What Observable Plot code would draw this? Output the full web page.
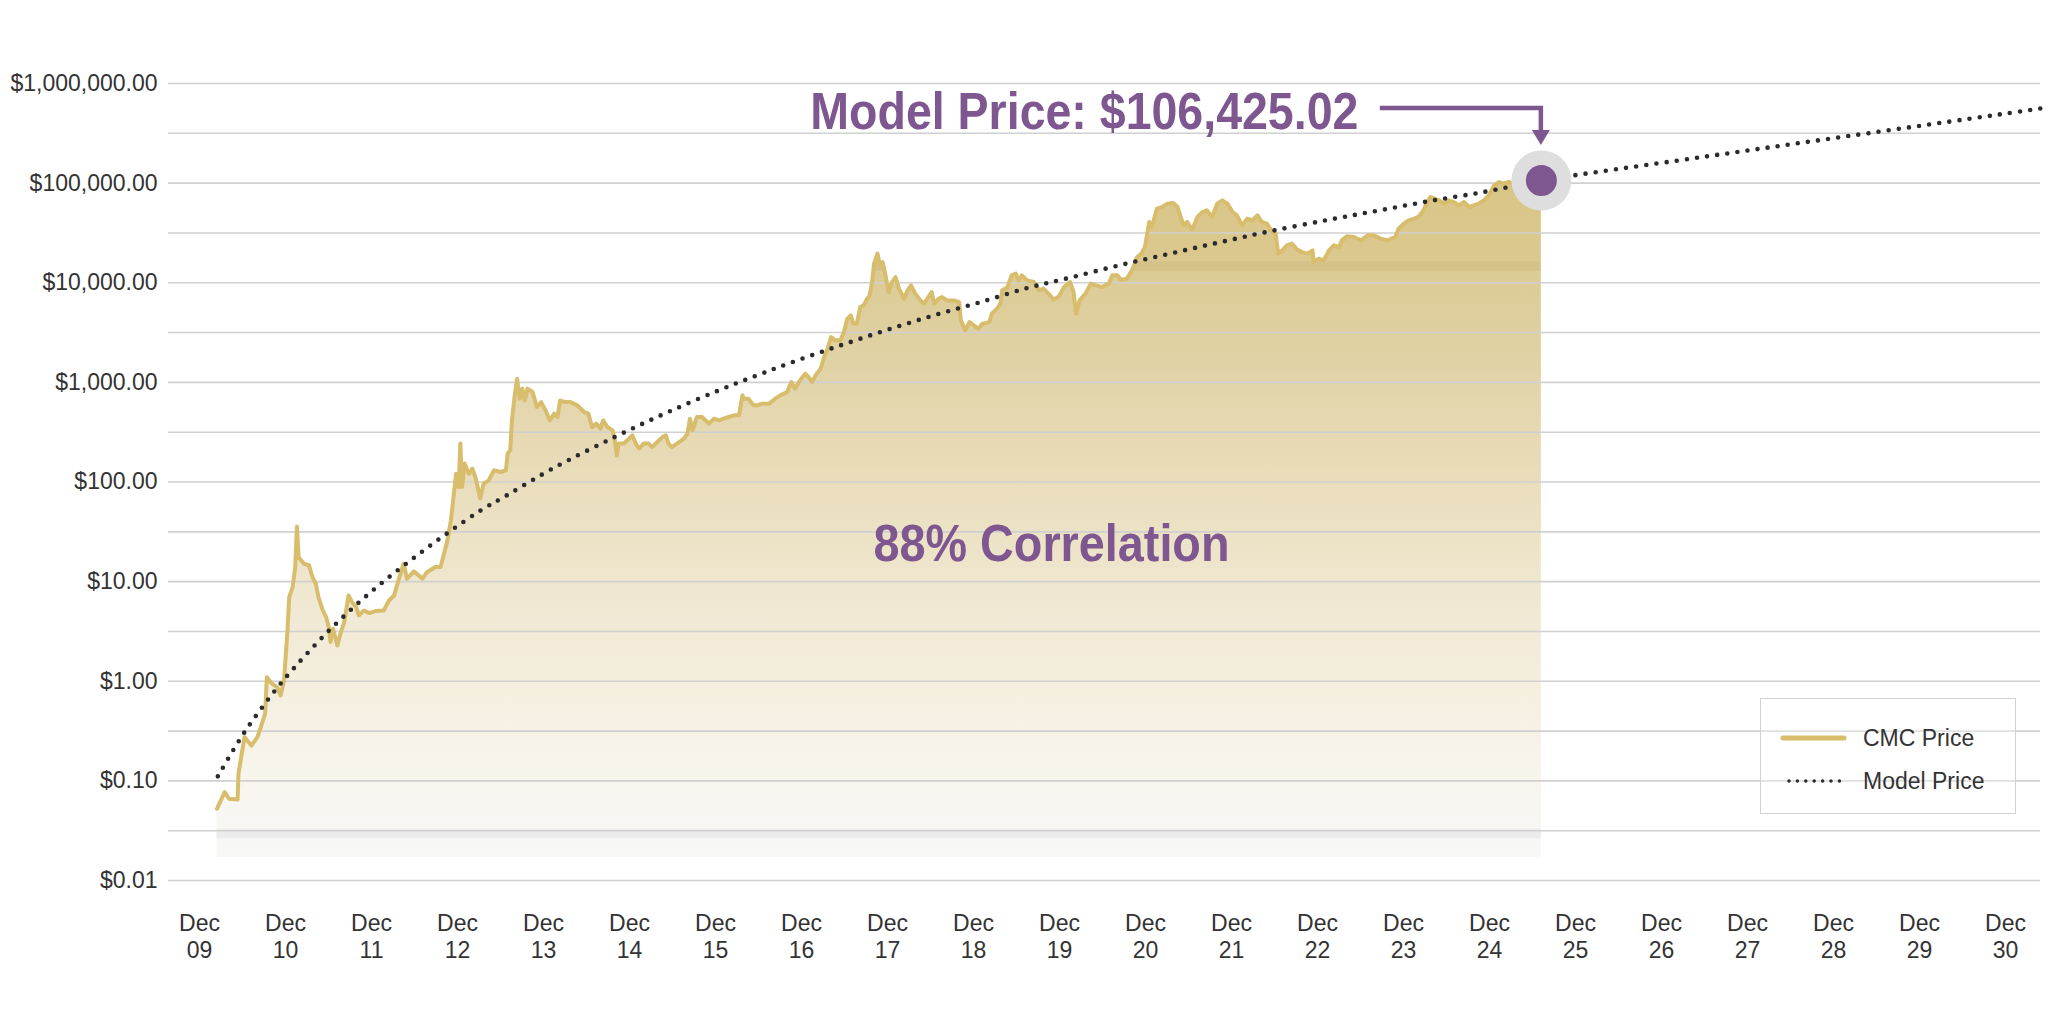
<!DOCTYPE html>
<html>
<head>
<meta charset="utf-8">
<script src="https://cdn.jsdelivr.net/npm/d3@7"></script>
<script src="https://cdn.jsdelivr.net/npm/@observablehq/plot@0.6"></script>
<style>
html,body{margin:0;padding:0;background:#fff;}
#wrap{position:relative;width:2048px;height:1010px;font-family:"Liberation Sans",Arial,Helvetica,sans-serif;}
#legend{position:absolute;left:1760px;top:698px;width:256px;height:116px;box-sizing:border-box;border:1.5px solid #d2d2d2;background:rgba(255,255,255,0.35);}
#legend svg{position:absolute;left:0;top:0;}
</style>
</head>
<body>
<div id="wrap">
  <div id="legend"></div>
</div>
<script>
// ---- Data (decimal-year positions) ----
const cmcT = [2010.12,2010.21,2010.26,2010.36,2010.37,2010.44,2010.52,2010.59,2010.63,2010.68,2010.70,2010.76,2010.82,2010.86,2010.90,2010.94,2010.96,2011.00,2011.03,2011.05,2011.07,2011.13,2011.19,2011.23,2011.27,2011.30,2011.35,2011.39,2011.42,2011.44,2011.47,2011.52,2011.56,2011.60,2011.65,2011.69,2011.74,2011.77,2011.83,2011.89,2011.96,2012.06,2012.12,2012.18,2012.23,2012.29,2012.33,2012.41,2012.51,2012.56,2012.66,2012.72,2012.76,2012.80,2012.84,2012.87,2012.90,2012.93,2012.95,2012.97,2013.00,2013.05,2013.09,2013.13,2013.18,2013.22,2013.28,2013.34,2013.42,2013.48,2013.50,2013.53,2013.55,2013.58,2013.61,2013.64,2013.67,2013.70,2013.73,2013.79,2013.84,2013.89,2013.94,2013.99,2014.04,2014.08,2014.11,2014.17,2014.23,2014.31,2014.39,2014.44,2014.48,2014.53,2014.58,2014.61,2014.66,2014.72,2014.74,2014.77,2014.79,2014.85,2014.91,2014.95,2014.99,2015.03,2015.08,2015.14,2015.18,2015.24,2015.30,2015.34,2015.37,2015.41,2015.47,2015.55,2015.59,2015.62,2015.65,2015.70,2015.76,2015.84,2015.90,2015.96,2016.01,2016.07,2016.13,2016.19,2016.23,2016.25,2016.30,2016.36,2016.40,2016.46,2016.54,2016.61,2016.67,2016.75,2016.80,2016.84,2016.90,2016.96,2017.00,2017.04,2017.08,2017.14,2017.18,2017.22,2017.26,2017.31,2017.37,2017.41,2017.45,2017.49,2017.52,2017.56,2017.60,2017.64,2017.68,2017.71,2017.74,2017.76,2017.80,2017.83,2017.86,2017.89,2017.93,2017.97,2018.01,2018.05,2018.11,2018.15,2018.19,2018.24,2018.30,2018.34,2018.38,2018.43,2018.46,2018.51,2018.55,2018.61,2018.69,2018.75,2018.77,2018.82,2018.87,2018.92,2018.97,2019.02,2019.10,2019.13,2019.19,2019.23,2019.25,2019.31,2019.36,2019.41,2019.44,2019.48,2019.54,2019.62,2019.68,2019.73,2019.79,2019.85,2019.91,2019.97,2020.04,2020.08,2020.11,2020.15,2020.22,2020.28,2020.34,2020.41,2020.49,2020.53,2020.59,2020.63,2020.70,2020.76,2020.82,2020.87,2020.91,2020.96,2020.99,2021.05,2021.11,2021.17,2021.24,2021.29,2021.32,2021.36,2021.40,2021.46,2021.52,2021.58,2021.63,2021.69,2021.75,2021.81,2021.87,2021.93,2021.98,2022.04,2022.10,2022.16,2022.22,2022.27,2022.33,2022.39,2022.43,2022.46,2022.51,2022.56,2022.62,2022.68,2022.74,2022.80,2022.86,2022.87,2022.93,2022.99,2023.05,2023.11,2023.17,2023.20,2023.26,2023.34,2023.42,2023.50,2023.57,2023.65,2023.73,2023.82,2023.86,2023.92,2023.98,2024.04,2024.09,2024.15,2024.19,2024.23,2024.28,2024.33,2024.39,2024.44,2024.50,2024.56,2024.62,2024.68,2024.73,2024.79,2024.85,2024.91,2024.97,2025.03,2025.08,2025.14,2025.20,2025.26,2025.32,2025.37,2025.43,2025.52];
const cmcPrice = [0.0525,0.0771,0.0661,0.065,0.118,0.275,0.226,0.275,0.346,0.472,1.10,0.944,0.873,0.719,1.02,3.24,6.98,8.81,14.0,35.8,17.6,15.1,14.6,11.1,9.53,6.98,5.14,4.41,3.49,2.47,3.37,2.29,3.11,3.92,7.26,6.22,5.55,4.58,5.14,4.83,5.06,5.14,6.47,7.26,10.3,15.1,10.7,12.7,10.7,12.4,14.0,14.0,19.1,25.9,41.1,70.5,121,88.9,243,88.9,153,121,136,108,68.4,96.1,104,131,126,131,192,208,415,712,1089,686,865,659,865,800,565,634,524,415,485,449,659,634,634,588,504,485,356,385,343,415,356,330,282,185,243,243,272,294,243,216,243,243,224,252,282,294,243,224,243,272,305,432,330,449,449,385,432,415,432,449,467,467,741,686,686,588,588,611,611,686,741,800,1007,865,1047,1222,1130,1007,1175,1374,1795,2178,2851,2642,2642,3199,4365,4710,3882,3882,5702,5932,6918,7464,10570,15560,19590,14960,16140,12330,8072,10160,11400,8730,6918,8395,9419,7780,6653,6166,6918,8072,6166,6918,7178,6653,6653,6397,4190,3327,4027,3733,3459,3882,4027,4898,5495,6166,8395,8933,11860,12330,10570,11860,10570,10160,8395,8730,7780,6761,7295,9057,10160,8072,4898,6653,7780,9795,9419,9057,9795,11860,11860,10740,10990,13300,18110,19590,22810,40740,36220,55460,57540,62230,63100,57540,47530,37670,40740,34120,45710,51290,53330,45710,62230,67140,62230,51290,47530,37670,44060,42360,47530,40740,39170,32280,31120,19590,21130,23770,24710,21480,20320,19590,21130,16140,17460,16790,21130,23770,22810,26670,29240,28770,26670,29920,29920,27730,26670,28770,34910,39170,42360,44060,45710,53330,64570,72610,69820,67140,62230,67140,64570,59840,64570,57540,59840,62230,67140,75510,95060,102600,98860,102600,98860,88100,91410,84720,88100,91410];

const modelT = [2010.13,2010.44,2010.79,2011.02,2011.34,2011.68,2012.04,2012.42,2012.80,2013.20,2013.51,2014.02,2014.76,2015.41,2016.07,2016.40,2016.74,2017.29,2017.86,2018.43,2019.00,2019.56,2020.04,2020.61,2021.20,2021.78,2022.36,2023.06,2023.64,2024.22,2024.81,2025.28,2025.52,2027.37,2029.11,2030.86,2031.42];
const modelPrice = [0.111,0.308,0.796,1.37,2.73,5.26,9.75,17.6,30.7,52.7,75.1,136,287,524,912,1175,1517,2228,3251,4634,6397,8933,11250,14960,19590,25470,32810,43050,53330,66070,80350,96610,106425.02,181600,298500,490900,576800];
const modelNowT = 2025.52;   // latest point, highlighted

const yTicks = [0.01,0.1,1,10,100,1000,10000,100000,1000000];
const yGrid = [0.01,0.0316,0.1,0.316,1,3.16,10,31.6,100,316,1000,3162,10000,31623,100000,316228,1000000];
const xTicks = [2009.917,2010.917,2011.917,2012.917,2013.917,2014.917,2015.917,2016.917,2017.917,2018.917,2019.917,2020.917,2021.917,2022.917,2023.917,2024.917,2025.917,2026.917,2027.917,2028.917,2029.917,2030.917];
const xTickLabels = ["09","10","11","12","13","14","15","16","17","18","19","20","21","22","23","24","25","26","27","28","29","30"];
const areaFloor = 0.017;
const correlationLabel = "88% Correlation";
const legendLabels = ["CMC Price","Model Price"];

// ---- Build ----
const gold = "#d8bd6c", purple = "#7e5790", dark = "#2b2b2b", textCol = "#333";
const fmtUSD = d => "$" + d3.format(",.2f")(d);
const cmc = cmcT.map((t, i) => ({t, p: cmcPrice[i]}));
const model = modelT.map((t, i) => ({t, p: modelPrice[i]}));
const modelNow = model[modelT.indexOf(modelNowT)];
const modelLabel = "Model Price: " + fmtUSD(modelNow.p);

const chart = Plot.plot({
  width: 2048, height: 1010,
  marginLeft: 168, marginRight: 8, marginTop: 83, marginBottom: 130,
  style: {fontFamily: "'Liberation Sans', Arial, Helvetica, sans-serif", fontSize: "23px", background: "#fff", color: textCol},
  x: {type: "linear", domain: [2009.5565, 2031.3239], label: null},
  y: {type: "log", domain: [0.01, 1000000], label: null},
  marks: [
    Plot.areaY(cmc, {x: "t", y1: areaFloor, y2: "p", fill: "url(#goldFade)"}),
    Plot.ruleY(yGrid, {stroke: "#d0d0d0", strokeWidth: 1.6}),
    Plot.axisY({ticks: yTicks, tickFormat: fmtUSD, tickSize: 0, tickPadding: 11, fontSize: 23, fill: textCol, label: null}),
    Plot.axisX({ticks: xTicks, tickFormat: d => "Dec\n" + xTickLabels[xTicks.indexOf(d)], tickSize: 0, tickPadding: 32, fontSize: 23, lineHeight: 1.15, fill: textCol, label: null}),
    Plot.line(cmc, {x: "t", y: "p", stroke: gold, strokeWidth: 4, strokeLinejoin: "round"}),
    Plot.line(model, {x: "t", y: "p", stroke: dark, strokeWidth: 4.6, strokeDasharray: "0 10.2", strokeLinecap: "round", curve: "catmull-rom"}),
    Plot.dot([modelNow], {x: "t", y: "p", r: 30, fill: "#dedede"}),
    Plot.dot([modelNow], {x: "t", y: "p", r: 15.5, fill: purple}),
    Plot.text([modelNow], {x: "t", y: "p", text: () => modelLabel, textAnchor: "end", dx: -183, dy: -68, fontSize: 52, fontWeight: "bold", fill: purple}),
    Plot.text([correlationLabel], {frameAnchor: "top-left", dx: 883, dy: 441, text: d => d, textAnchor: "middle", fontSize: 52, fontWeight: "bold", fill: purple})
  ]
});

const svg = d3.select(chart);
svg.insert("defs", ":first-child").html(`
  <linearGradient id="goldFade" gradientUnits="userSpaceOnUse" x1="0" y1="130" x2="0" y2="857">
    <stop offset="0" stop-color="#d9c483"/>
    <stop offset="0.18" stop-color="#dbc88e"/>
    <stop offset="0.181" stop-color="#d4c28a"/>
    <stop offset="0.193" stop-color="#d4c28a"/>
    <stop offset="0.194" stop-color="#dccb94"/>
    <stop offset="0.30" stop-color="#e0d1a3"/>
    <stop offset="0.48" stop-color="#e9ddbb"/>
    <stop offset="0.65" stop-color="#f0e8d2"/>
    <stop offset="0.81" stop-color="#f6f1e4"/>
    <stop offset="0.92" stop-color="#f8f6f0"/>
    <stop offset="0.960" stop-color="#f8f7f4"/>
    <stop offset="0.962" stop-color="#ebebeb"/>
    <stop offset="0.973" stop-color="#ebebeb"/>
    <stop offset="0.975" stop-color="#f7f7f6"/>
    <stop offset="1" stop-color="#f8f8f7"/>
  </linearGradient>`);
// condensed look of the bold annotations: fit to the widths seen in the reference
const fitWidths = new Map([[modelLabel, 548], [correlationLabel, 356]]);
svg.selectAll("text").each(function () {
  const len = fitWidths.get(this.textContent);
  if (len) { this.setAttribute("textLength", len); this.setAttribute("lengthAdjust", "spacingAndGlyphs"); }
});

// arrow from the label to the highlighted model point, placed through the plot's scales
const xs = chart.scale("x"), ys = chart.scale("y");
const px = xs.apply(modelNow.t), py = ys.apply(modelNow.p);
const arrow = svg.append("g").attr("aria-label", "arrow");
arrow.append("path").attr("d", `M${px - 161},${py - 72}H${px}V${py - 47}`)
  .attr("fill", "none").attr("stroke", purple).attr("stroke-width", 4.5);
arrow.append("path").attr("d", `M${px - 9},${py - 50}L${px + 9},${py - 50}L${px},${py - 35}Z`).attr("fill", purple);

const wrap = document.getElementById("wrap");
wrap.insertBefore(chart, wrap.firstChild);
chart.style.display = "block";

// legend
document.getElementById("legend").innerHTML = `
<svg width="256" height="116" style="font-family:'Liberation Sans',Arial,sans-serif">
  <line x1="22" y1="39" x2="83" y2="39" stroke="${gold}" stroke-width="5" stroke-linecap="round"/>
  <text x="102" y="39" dy="0.35em" font-size="23" fill="${textCol}">${legendLabels[0]}</text>
  <line x1="28" y1="82" x2="83" y2="82" stroke="${dark}" stroke-width="3.5" stroke-dasharray="0 8.4" stroke-linecap="round"/>
  <text x="102" y="82" dy="0.35em" font-size="23" fill="${textCol}">${legendLabels[1]}</text>
</svg>`;
</script>
</body>
</html>
